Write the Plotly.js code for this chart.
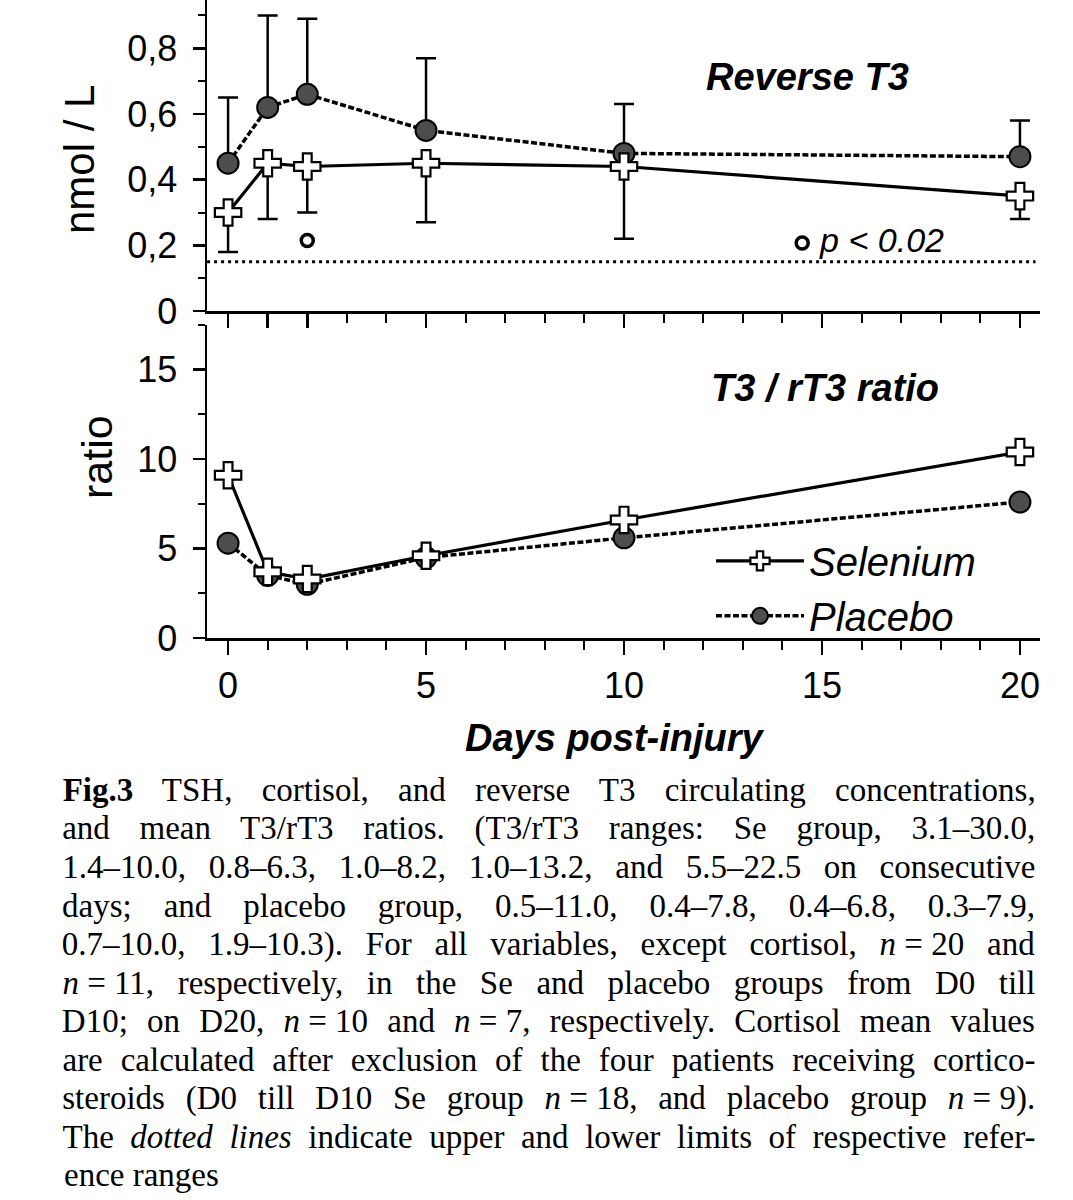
<!DOCTYPE html>
<html>
<head>
<meta charset="utf-8">
<script src="https://cdn.plot.ly/plotly-3.0.1.min.js"></script>
<style>html,body{margin:0;padding:0;background:#fff;}</style>
</head>
<body>
<div id="chart" style="width:1073px;height:1200px;"></div>
<script>
// ---- Data ----
const days = [0, 1, 2, 5, 10, 20];

// Reverse T3 (nmol/L)
const rt3Selenium = [0.30, 0.45, 0.44, 0.45, 0.44, 0.35];
const rt3SeleniumLower = [0.18, 0.28, 0.30, 0.27, 0.22, 0.28];
const rt3Placebo = [0.45, 0.62, 0.66, 0.55, 0.48, 0.47];
const rt3PlaceboUpper = [0.65, 0.90, 0.89, 0.77, 0.63, 0.58];
const rt3RefLower = 0.15;
const sigDays = [2];
const sigValues = [0.215];
const sigKeyDay = [14.5];
const sigKeyValue = [0.207];

// T3 / rT3 ratio
const ratioSelenium = [9.1, 3.7, 3.3, 4.6, 6.6, 10.4];
const ratioPlacebo = [5.3, 3.5, 3.0, 4.5, 5.6, 7.6];

// Tick labels
const rt3TickVals = [0, 0.2, 0.4, 0.6, 0.8];
const rt3TickText = ['0', '0,2', '0,4', '0,6', '0,8'];
const ratioTickVals = [0, 5, 10, 15];
const ratioTickText = ['0', '5', '10', '15'];
const dayTickVals = [0, 5, 10, 15, 20];
const dayTickText = ['0', '5', '10', '15', '20'];
const topDayTickVals = [0, 1, 2, 5, 10, 15, 20];

const captionLines = [
  '<b>Fig.3</b> TSH, cortisol, and reverse T3 circulating concentrations,',
  'and mean T3/rT3 ratios. (T3/rT3 ranges: Se group, 3.1–30.0,',
  '1.4–10.0, 0.8–6.3, 1.0–8.2, 1.0–13.2, and 5.5–22.5 on consecutive',
  'days; and placebo group, 0.5–11.0, 0.4–7.8, 0.4–6.8, 0.3–7.9,',
  '0.7–10.0, 1.9–10.3). For all variables, except cortisol, <i>n</i>\u2005=\u200520 and',
  '<i>n</i>\u2005=\u200511, respectively, in the Se and placebo groups from D0 till',
  'D10; on D20, <i>n</i>\u2005=\u200510 and <i>n</i>\u2005=\u20057, respectively. Cortisol mean values',
  'are calculated after exclusion of the four patients receiving cortico-',
  'steroids (D0 till D10 Se group <i>n</i>\u2005=\u200518, and placebo group <i>n</i>\u2005=\u20059).',
  'The <i>dotted lines</i> indicate upper and lower limits of respective refer-',
  'ence ranges'
];

// ---- Styles ----
const SANS = 'Liberation Sans, Arial, sans-serif';
const SERIF = 'Liberation Serif, Times New Roman, serif';
const placeboMarker = {symbol: 'circle', size: 21, color: '#4d4d4d', line: {color: '#000', width: 2}};
const seleniumMarker = {symbol: 'cross', size: 22, color: '#fff', line: {color: '#000', width: 2.2}};
const placeboLine = {color: '#000', width: 3.5, dash: '6px,2.5px'};
const seleniumLine = {color: '#000', width: 3.2};
const sigMarker = {symbol: 'circle', size: 12, color: '#fff', line: {color: '#000', width: 3.5}};

const upDiff = rt3PlaceboUpper.map((u, i) => u - rt3Placebo[i]);
const downDiff = rt3Selenium.map((m, i) => m - rt3SeleniumLower[i]);
const zeros = days.map(() => 0);

const traces = [
  {x: days, y: rt3Placebo, xaxis: 'x', yaxis: 'y', mode: 'lines+markers', name: 'Placebo',
   line: placeboLine, marker: placeboMarker, showlegend: false,
   error_y: {type: 'data', symmetric: false, array: upDiff, arrayminus: zeros, color: '#000', thickness: 2.5, width: 10}},
  {x: days, y: rt3Selenium, xaxis: 'x', yaxis: 'y', mode: 'lines+markers', name: 'Selenium',
   line: seleniumLine, marker: seleniumMarker, showlegend: false,
   error_y: {type: 'data', symmetric: false, array: zeros, arrayminus: downDiff, color: '#000', thickness: 2.5, width: 10}},
  {x: sigDays, y: sigValues, xaxis: 'x', yaxis: 'y', mode: 'markers', showlegend: false, marker: sigMarker},
  {x: sigKeyDay, y: sigKeyValue, xaxis: 'x', yaxis: 'y', mode: 'markers+text', showlegend: false,
   text: ['&nbsp;<i>p</i> &lt; 0.02'], textposition: 'middle right',
   textfont: {family: SANS, size: 34, color: '#000', style: 'italic'}, marker: sigMarker},
  {x: days, y: ratioPlacebo, xaxis: 'x2', yaxis: 'y2', mode: 'lines+markers', name: 'Placebo',
   line: placeboLine, marker: placeboMarker, legendgroup: 'p', legendrank: 2},
  {x: days, y: ratioSelenium, xaxis: 'x2', yaxis: 'y2', mode: 'lines+markers', name: 'Selenium',
   line: seleniumLine, marker: seleniumMarker, legendgroup: 's', legendrank: 1}
];

const xRange = [-0.53, 20.5];
const axisCommon = {showline: true, linecolor: '#000', linewidth: 2.5, showgrid: false, zeroline: false,
  ticks: 'outside', tickcolor: '#000', tickwidth: 2.5, tickfont: {family: SANS, size: 36, color: '#000'}};

function note(text, x, y, size, angle) {
  return {text: text, xref: 'paper', yref: 'paper', x: x, y: y, xanchor: 'center', yanchor: 'middle',
    textangle: angle || 0, showarrow: false, font: {family: SANS, size: size, color: '#000'}};
}
const annotations = [
  note('<b><i>Reverse T3</i></b>', 807 / 1073, 1 - 77 / 1200, 38),
  note('<b><i>T3 / rT3 ratio</i></b>', 825 / 1073, 1 - 388 / 1200, 38),
  note('nmol / L', 80 / 1073, 1 - 160 / 1200, 42, -90),
  note('ratio', 97 / 1073, 1 - 457 / 1200, 43, -90),
  note('<b><i>Days post-injury</i></b>', 615 / 1073, 1 - 738 / 1200, 38)
];
const capLeft = 62, capRight = 1035;
captionLines.forEach((t, i) => {
  const last = i === captionLines.length - 1;
  annotations.push({text: t, xref: 'paper', yref: 'paper',
    x: last ? capLeft / 1073 : (capLeft + capRight) / 2 / 1073, xanchor: last ? 'left' : 'center',
    y: 1 - (790 + i * 38.5) / 1200, yanchor: 'middle', showarrow: false,
    font: {family: SERIF, size: 33, color: '#000'}});
});

const layout = {
  width: 1073, height: 1200,
  margin: {l: 0, r: 0, t: 0, b: 0},
  paper_bgcolor: '#fff', plot_bgcolor: '#fff',
  xaxis: Object.assign({}, axisCommon, {domain: [0.193, 0.969], range: xRange, anchor: 'y',
    tickmode: 'array', tickvals: topDayTickVals, showticklabels: false, ticklen: 14,
    minor: {dtick: 1, tick0: 0, ticks: 'outside', ticklen: 9, tickwidth: 2, tickcolor: '#000'}}),
  yaxis: Object.assign({}, axisCommon, {domain: [0.7408, 1], range: [0, 0.947], anchor: 'x',
    tickmode: 'array', tickvals: rt3TickVals, ticktext: rt3TickText, ticklen: 12, ticklabelstandoff: 8,
    minor: {dtick: 0.1, tick0: 0, ticks: 'outside', ticklen: 7, tickwidth: 2, tickcolor: '#000'}}),
  xaxis2: Object.assign({}, axisCommon, {domain: [0.193, 0.969], range: xRange, anchor: 'y2',
    tickmode: 'array', tickvals: dayTickVals, ticktext: dayTickText, ticklen: 14, ticklabelstandoff: 0,
    minor: {dtick: 1, tick0: 0, ticks: 'outside', ticklen: 9, tickwidth: 2, tickcolor: '#000'}}),
  yaxis2: Object.assign({}, axisCommon, {domain: [0.4683, 0.7292], range: [0, 17.5], anchor: 'x2',
    tickmode: 'array', tickvals: ratioTickVals, ticktext: ratioTickText, ticklen: 12, ticklabelstandoff: 8,
    minor: {dtick: 2.5, tick0: 0, ticks: 'outside', ticklen: 7, tickwidth: 2, tickcolor: '#000'}}),
  shapes: [
    {type: 'line', xref: 'x domain', yref: 'y', x0: 0, x1: 0.995, y0: rt3RefLower, y1: rt3RefLower,
     line: {color: '#000', width: 3, dash: '3px,4px'}}
  ],
  legend: {x: 711 / 1073, y: 0.5597, xanchor: 'left', yanchor: 'top', traceorder: 'grouped', tracegroupgap: 0,
    itemwidth: 88, bgcolor: 'rgba(0,0,0,0)', font: {family: SANS, size: 40, color: '#000', style: 'italic'}},
  annotations: annotations
};

Plotly.newPlot('chart', traces, layout, {displayModeBar: false, staticPlot: true}).then(function (gd) {
  // justify caption lines (all but the last) to the caption block width
  const targetWidth = capRight - capLeft;
  gd.querySelectorAll('.annotation-text').forEach(function (el) {
    const full = el.textContent;
    const idx = captionLines.findIndex(function (c) { return c.replace(/<[^>]+>/g, '') === full; });
    if (idx < 0 || idx === captionLines.length - 1) return;
    const spaces = (full.match(/ /g) || []).length;
    if (!spaces) return;
    const w = el.getComputedTextLength();
    el.setAttribute('word-spacing', ((targetWidth - w) / spaces).toFixed(2) + 'px');
  });
});
</script>
</body>
</html>
